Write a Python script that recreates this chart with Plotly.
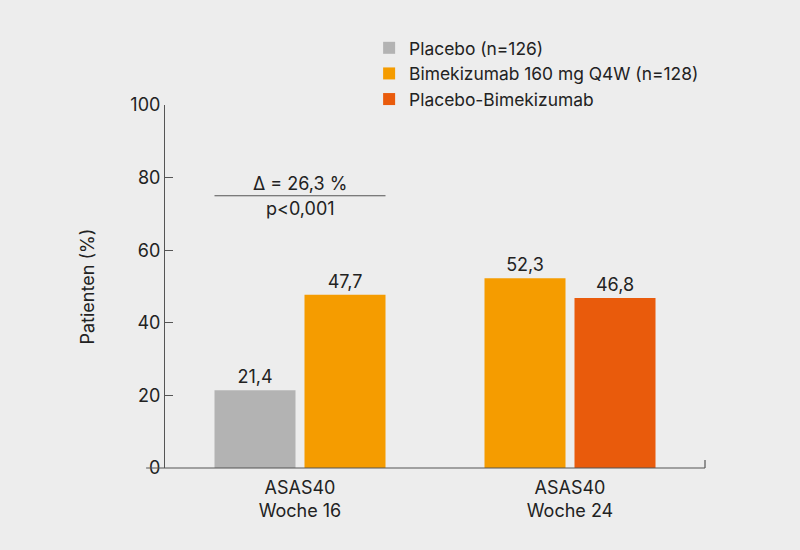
import plotly.graph_objects as go

# ---- data ----
groups = ["ASAS40<br>Woche 16", "ASAS40<br>Woche 24"]
group_pos = [0.5, 3.5]

series_names = ["Placebo (n=126)", "Bimekizumab 160 mg Q4W (n=128)", "Placebo-Bimekizumab"]
series_colors = ["#b3b3b3", "#f59c00", "#e95b0c"]
# slot positions of each series' bars (group 1 slots 0,1 ; group 2 slots 3,4)
series_slots = [[0], [1, 3], [4]]
series_values = [[21.4], [47.7, 52.3], [46.8]]

y_ticks = [0, 20, 40, 60, 80, 100]
delta_text = "Δ = 26,3 %"
p_text = "p<0,001"
delta_level = 75

FONT = "Inter"
FS = 18
TXT = "#222222"
AX = "#555555"

fig = go.Figure()
for name, col, xs, vals in zip(series_names, series_colors, series_slots, series_values):
    fig.add_trace(go.Bar(
        x=xs, y=vals, name=name, marker_color=col, marker_line_width=0,
        width=0.9,
        text=[f"{v:.1f}".replace(".", ",") for v in vals],
        textposition="outside", cliponaxis=False,
        textfont=dict(size=FS, color=TXT, family=FONT),
        hoverinfo="skip",
    ))

fig.update_layout(
    width=800, height=550,
    margin=dict(l=165, r=95, t=105, b=82),
    paper_bgcolor="#ededed", plot_bgcolor="#ededed",
    font=dict(family=FONT, size=FS, color=TXT),
    barmode="overlay",
    showlegend=True,
    legend=dict(x=0.378, y=1.2066, xanchor="left", yanchor="top",
                font=dict(size=17.4, color=TXT, family=FONT),
                bgcolor="rgba(0,0,0,0)", tracegroupgap=0, itemwidth=30),
)

fig.update_xaxes(range=[-1, 5], tickmode="array", tickvals=group_pos, ticktext=groups,
                 showline=False, showgrid=False, zeroline=False, ticks="",
                 ticklabelstandoff=7,
                 tickfont=dict(size=FS, color=TXT, family=FONT))
fig.update_yaxes(range=[0, 100], tickmode="array", tickvals=y_ticks,
                 showline=True, linecolor=AX, linewidth=1,
                 ticks="inside", ticklen=8, tickcolor=AX,
                 showgrid=False, zeroline=False,
                 tickfont=dict(size=FS, color=TXT, family=FONT))

# axis lines
fig.add_shape(type="line", xref="paper", yref="paper", x0=-0.035, x1=1.0, y0=0, y1=0,
              line=dict(color=AX, width=1.2))
fig.add_shape(type="line", xref="paper", yref="paper", x0=1.0, x1=1.0, y0=0, y1=0.022,
              line=dict(color=AX, width=1.2))

# y title
fig.add_annotation(text="Patienten (%)", xref="paper", yref="paper", x=-0.1426, y=0.5,
                   xanchor="center", yanchor="middle",
                   textangle=-90, showarrow=False, font=dict(size=FS, color=TXT, family=FONT))

# delta annotation
fig.add_shape(type="line", xref="x", yref="y", x0=-0.45, x1=1.45, y0=delta_level, y1=delta_level,
              line=dict(color=AX, width=1))
fig.add_annotation(text=delta_text, x=0.5, y=delta_level, xref="x", yref="y", yanchor="bottom",
                   showarrow=False, yshift=0, font=dict(size=FS, color=TXT, family=FONT))
fig.add_annotation(text=p_text, x=0.5, y=delta_level, xref="x", yref="y", yanchor="top",
                   showarrow=False, yshift=0, font=dict(size=FS, color=TXT, family=FONT))

fig.write_html("out.html")
